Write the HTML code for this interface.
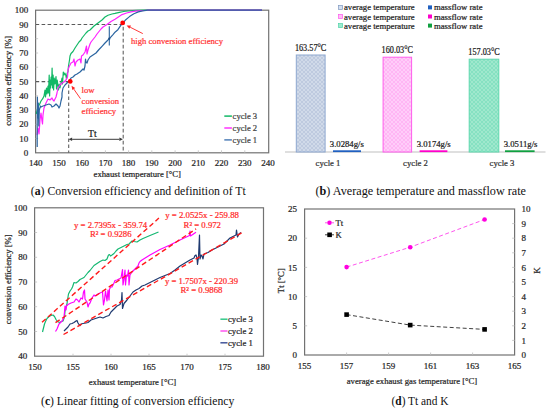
<!DOCTYPE html>
<html><head><meta charset="utf-8"><style>
html,body{margin:0;padding:0;background:#fff;overflow:hidden;}
svg{display:block;}
</style></head><body>
<svg width="550" height="412" viewBox="0 0 550 412" font-family="Liberation Serif">
<rect x="35.6" y="10.2" width="233.1" height="142.60000000000002" fill="none" stroke="#727272" stroke-width="1.2"/>
<line x1="35.6" y1="138.5" x2="38.1" y2="138.5" stroke="#bfbfbf" stroke-width="0.8"/>
<line x1="35.6" y1="124.3" x2="38.1" y2="124.3" stroke="#bfbfbf" stroke-width="0.8"/>
<line x1="35.6" y1="110.0" x2="38.1" y2="110.0" stroke="#bfbfbf" stroke-width="0.8"/>
<line x1="35.6" y1="95.8" x2="38.1" y2="95.8" stroke="#bfbfbf" stroke-width="0.8"/>
<line x1="35.6" y1="81.5" x2="38.1" y2="81.5" stroke="#bfbfbf" stroke-width="0.8"/>
<line x1="35.6" y1="67.2" x2="38.1" y2="67.2" stroke="#bfbfbf" stroke-width="0.8"/>
<line x1="35.6" y1="53.0" x2="38.1" y2="53.0" stroke="#bfbfbf" stroke-width="0.8"/>
<line x1="35.6" y1="38.7" x2="38.1" y2="38.7" stroke="#bfbfbf" stroke-width="0.8"/>
<line x1="35.6" y1="24.5" x2="38.1" y2="24.5" stroke="#bfbfbf" stroke-width="0.8"/>
<line x1="58.9" y1="152.8" x2="58.9" y2="150.3" stroke="#bfbfbf" stroke-width="0.8"/>
<line x1="82.2" y1="152.8" x2="82.2" y2="150.3" stroke="#bfbfbf" stroke-width="0.8"/>
<line x1="105.4" y1="152.8" x2="105.4" y2="150.3" stroke="#bfbfbf" stroke-width="0.8"/>
<line x1="128.6" y1="152.8" x2="128.6" y2="150.3" stroke="#bfbfbf" stroke-width="0.8"/>
<line x1="151.8" y1="152.8" x2="151.8" y2="150.3" stroke="#bfbfbf" stroke-width="0.8"/>
<line x1="175.1" y1="152.8" x2="175.1" y2="150.3" stroke="#bfbfbf" stroke-width="0.8"/>
<line x1="198.3" y1="152.8" x2="198.3" y2="150.3" stroke="#bfbfbf" stroke-width="0.8"/>
<line x1="221.5" y1="152.8" x2="221.5" y2="150.3" stroke="#bfbfbf" stroke-width="0.8"/>
<line x1="244.8" y1="152.8" x2="244.8" y2="150.3" stroke="#bfbfbf" stroke-width="0.8"/>
<text x="28.3" y="155.9" font-size="9" text-anchor="end" fill="#262626"  stroke="#262626" stroke-width="0.22">0</text>
<text x="28.3" y="141.64000000000001" font-size="9" text-anchor="end" fill="#262626"  stroke="#262626" stroke-width="0.22">10</text>
<text x="28.3" y="127.38" font-size="9" text-anchor="end" fill="#262626"  stroke="#262626" stroke-width="0.22">20</text>
<text x="28.3" y="113.12" font-size="9" text-anchor="end" fill="#262626"  stroke="#262626" stroke-width="0.22">30</text>
<text x="28.3" y="98.86" font-size="9" text-anchor="end" fill="#262626"  stroke="#262626" stroke-width="0.22">40</text>
<text x="28.3" y="84.6" font-size="9" text-anchor="end" fill="#262626"  stroke="#262626" stroke-width="0.22">50</text>
<text x="28.3" y="70.33999999999999" font-size="9" text-anchor="end" fill="#262626"  stroke="#262626" stroke-width="0.22">60</text>
<text x="28.3" y="56.07999999999999" font-size="9" text-anchor="end" fill="#262626"  stroke="#262626" stroke-width="0.22">70</text>
<text x="28.3" y="41.82" font-size="9" text-anchor="end" fill="#262626"  stroke="#262626" stroke-width="0.22">80</text>
<text x="28.3" y="27.55999999999998" font-size="9" text-anchor="end" fill="#262626"  stroke="#262626" stroke-width="0.22">90</text>
<text x="28.3" y="13.299999999999988" font-size="9" text-anchor="end" fill="#262626"  stroke="#262626" stroke-width="0.22">100</text>
<text x="35.7" y="165.9" font-size="9" text-anchor="middle" fill="#262626"  stroke="#262626" stroke-width="0.22">140</text>
<text x="58.93" y="165.9" font-size="9" text-anchor="middle" fill="#262626"  stroke="#262626" stroke-width="0.22">150</text>
<text x="82.16" y="165.9" font-size="9" text-anchor="middle" fill="#262626"  stroke="#262626" stroke-width="0.22">160</text>
<text x="105.38999999999999" y="165.9" font-size="9" text-anchor="middle" fill="#262626"  stroke="#262626" stroke-width="0.22">170</text>
<text x="128.62" y="165.9" font-size="9" text-anchor="middle" fill="#262626"  stroke="#262626" stroke-width="0.22">180</text>
<text x="151.85" y="165.9" font-size="9" text-anchor="middle" fill="#262626"  stroke="#262626" stroke-width="0.22">190</text>
<text x="175.07999999999998" y="165.9" font-size="9" text-anchor="middle" fill="#262626"  stroke="#262626" stroke-width="0.22">200</text>
<text x="198.31" y="165.9" font-size="9" text-anchor="middle" fill="#262626"  stroke="#262626" stroke-width="0.22">210</text>
<text x="221.54" y="165.9" font-size="9" text-anchor="middle" fill="#262626"  stroke="#262626" stroke-width="0.22">220</text>
<text x="244.76999999999998" y="165.9" font-size="9" text-anchor="middle" fill="#262626"  stroke="#262626" stroke-width="0.22">230</text>
<text x="268.00000000000006" y="165.9" font-size="9" text-anchor="middle" fill="#262626"  stroke="#262626" stroke-width="0.22">240</text>
<text x="137.3" y="177.4" font-size="8.7" text-anchor="middle" fill="#262626"  stroke="#262626" stroke-width="0.22">exhaust temperature [°C]</text>
<text transform="translate(11.2,80.8) rotate(-90)" font-size="8.7" text-anchor="middle" fill="#262626" stroke="#262626" stroke-width="0.22">conversion efficiency [%]</text>
<text x="30.8" y="194.9" font-size="12" fill="#111" textLength="215" lengthAdjust="spacingAndGlyphs">(<tspan font-weight="bold">a</tspan>) Conversion efficiency and definition of Tt</text>
<line x1="224.3" y1="116.1" x2="231.9" y2="116.1" stroke="#12b866" stroke-width="1.5"/>
<text x="232.6" y="119.1" font-size="8.6" text-anchor="start" fill="#444"  stroke="#444" stroke-width="0.22">cycle 3</text>
<line x1="224.3" y1="128.0" x2="231.9" y2="128.0" stroke="#ff33ff" stroke-width="1.5"/>
<text x="232.6" y="131.0" font-size="8.6" text-anchor="start" fill="#444"  stroke="#444" stroke-width="0.22">cycle 2</text>
<line x1="224.3" y1="139.9" x2="231.9" y2="139.9" stroke="#4f7fb8" stroke-width="1.5"/>
<text x="232.6" y="142.9" font-size="8.6" text-anchor="start" fill="#444"  stroke="#444" stroke-width="0.22">cycle 1</text>
<rect x="34.6" y="207.8" width="228.9" height="148.39999999999998" fill="none" stroke="#727272" stroke-width="1.2"/>
<line x1="34.6" y1="331.5" x2="37.1" y2="331.5" stroke="#bfbfbf" stroke-width="0.8"/>
<line x1="34.6" y1="306.7" x2="37.1" y2="306.7" stroke="#bfbfbf" stroke-width="0.8"/>
<line x1="34.6" y1="282.0" x2="37.1" y2="282.0" stroke="#bfbfbf" stroke-width="0.8"/>
<line x1="34.6" y1="257.3" x2="37.1" y2="257.3" stroke="#bfbfbf" stroke-width="0.8"/>
<line x1="34.6" y1="232.5" x2="37.1" y2="232.5" stroke="#bfbfbf" stroke-width="0.8"/>
<line x1="73.0" y1="356.2" x2="73.0" y2="353.7" stroke="#bfbfbf" stroke-width="0.8"/>
<line x1="111.0" y1="356.2" x2="111.0" y2="353.7" stroke="#bfbfbf" stroke-width="0.8"/>
<line x1="149.0" y1="356.2" x2="149.0" y2="353.7" stroke="#bfbfbf" stroke-width="0.8"/>
<line x1="187.0" y1="356.2" x2="187.0" y2="353.7" stroke="#bfbfbf" stroke-width="0.8"/>
<line x1="225.0" y1="356.2" x2="225.0" y2="353.7" stroke="#bfbfbf" stroke-width="0.8"/>
<text x="27.3" y="359.3" font-size="9" text-anchor="end" fill="#262626"  stroke="#262626" stroke-width="0.22">40</text>
<text x="27.3" y="334.56666666666666" font-size="9" text-anchor="end" fill="#262626"  stroke="#262626" stroke-width="0.22">50</text>
<text x="27.3" y="309.83333333333337" font-size="9" text-anchor="end" fill="#262626"  stroke="#262626" stroke-width="0.22">60</text>
<text x="27.3" y="285.1" font-size="9" text-anchor="end" fill="#262626"  stroke="#262626" stroke-width="0.22">70</text>
<text x="27.3" y="260.3666666666667" font-size="9" text-anchor="end" fill="#262626"  stroke="#262626" stroke-width="0.22">80</text>
<text x="27.3" y="235.63333333333333" font-size="9" text-anchor="end" fill="#262626"  stroke="#262626" stroke-width="0.22">90</text>
<text x="27.3" y="210.9" font-size="9" text-anchor="end" fill="#262626"  stroke="#262626" stroke-width="0.22">100</text>
<text x="35.0" y="369.6" font-size="9" text-anchor="middle" fill="#262626"  stroke="#262626" stroke-width="0.22">150</text>
<text x="73.0" y="369.6" font-size="9" text-anchor="middle" fill="#262626"  stroke="#262626" stroke-width="0.22">155</text>
<text x="111.0" y="369.6" font-size="9" text-anchor="middle" fill="#262626"  stroke="#262626" stroke-width="0.22">160</text>
<text x="149.0" y="369.6" font-size="9" text-anchor="middle" fill="#262626"  stroke="#262626" stroke-width="0.22">165</text>
<text x="187.0" y="369.6" font-size="9" text-anchor="middle" fill="#262626"  stroke="#262626" stroke-width="0.22">170</text>
<text x="225.0" y="369.6" font-size="9" text-anchor="middle" fill="#262626"  stroke="#262626" stroke-width="0.22">175</text>
<text x="263.0" y="369.6" font-size="9" text-anchor="middle" fill="#262626"  stroke="#262626" stroke-width="0.22">180</text>
<text x="132.4" y="385.0" font-size="8.7" text-anchor="middle" fill="#262626"  stroke="#262626" stroke-width="0.22">exhaust temperature [°C]</text>
<text transform="translate(10.6,279.3) rotate(-90)" font-size="8.7" text-anchor="middle" fill="#262626" stroke="#262626" stroke-width="0.22">conversion efficiency [%]</text>
<text x="41" y="405.2" font-size="12" fill="#111" textLength="193.3" lengthAdjust="spacingAndGlyphs">(<tspan font-weight="bold">c</tspan>) Linear fitting of conversion efficiency</text>
<line x1="220.4" y1="319.2" x2="227.5" y2="319.2" stroke="#34c88a" stroke-width="1.5"/>
<text x="228.0" y="322.2" font-size="8.7" text-anchor="start" fill="#262626"  stroke="#262626" stroke-width="0.22">cycle 3</text>
<line x1="220.4" y1="331.0" x2="227.5" y2="331.0" stroke="#ff55f0" stroke-width="1.5"/>
<text x="228.0" y="334.0" font-size="8.7" text-anchor="start" fill="#262626"  stroke="#262626" stroke-width="0.22">cycle 2</text>
<line x1="220.4" y1="342.8" x2="227.5" y2="342.8" stroke="#44569a" stroke-width="1.5"/>
<text x="228.0" y="345.8" font-size="8.7" text-anchor="start" fill="#262626"  stroke="#262626" stroke-width="0.22">cycle 1</text>
<line x1="285" y1="152" x2="545.5" y2="152" stroke="#bfbfbf" stroke-width="1"/>
<defs>
<pattern id="pb" width="4" height="4" patternUnits="userSpaceOnUse"><rect width="4" height="4" fill="#d0dae9"/><path d="M-1,-1 L5,5 M5,-1 L-1,5" stroke="#bac7dc" stroke-width="0.8"/></pattern>
<pattern id="pp" width="4" height="4" patternUnits="userSpaceOnUse"><rect width="4" height="4" fill="#ffcdf9"/><path d="M-1,-1 L5,5 M5,-1 L-1,5" stroke="#ffb0f2" stroke-width="0.8"/></pattern>
<pattern id="pg" width="4" height="4" patternUnits="userSpaceOnUse"><rect width="4" height="4" fill="#9fe8cd"/><path d="M-1,-1 L5,5 M5,-1 L-1,5" stroke="#80e0bf" stroke-width="0.8"/></pattern>
</defs>
<rect x="296.3" y="55.0" width="28.80000000000001" height="97.0" fill="url(#pb)" stroke="#8ea8d0" stroke-width="1"/>
<text x="310.6" y="51.0" font-size="9.4" text-anchor="middle" fill="#1a1a1a" textLength="31.4" lengthAdjust="spacingAndGlyphs" stroke="#1a1a1a" stroke-width="0.22">163.57°C</text>
<rect x="383.1" y="57.2" width="28.5" height="94.8" fill="url(#pp)" stroke="#ff5cec" stroke-width="1"/>
<text x="397.3" y="53.0" font-size="9.4" text-anchor="middle" fill="#1a1a1a" textLength="31.4" lengthAdjust="spacingAndGlyphs" stroke="#1a1a1a" stroke-width="0.22">160.03°C</text>
<rect x="469.2" y="59.2" width="29.600000000000023" height="92.8" fill="url(#pg)" stroke="#5fd8ae" stroke-width="1"/>
<text x="484.0" y="55.099999999999994" font-size="9.4" text-anchor="middle" fill="#1a1a1a" textLength="31.4" lengthAdjust="spacingAndGlyphs" stroke="#1a1a1a" stroke-width="0.22">157.03°C</text>
<rect x="333" y="150.3" width="28" height="1.8" fill="#2060c0"/>
<text x="346.8" y="147.1" font-size="8.7" text-anchor="middle" fill="#222"  stroke="#222" stroke-width="0.22">3.0284g/s</text>
<text x="328" y="165.7" font-size="8.7" text-anchor="middle" fill="#333"  stroke="#333" stroke-width="0.22">cycle 1</text>
<rect x="419.6" y="150.3" width="27.799999999999955" height="1.8" fill="#ff00cc"/>
<text x="433.7" y="147.1" font-size="8.7" text-anchor="middle" fill="#222"  stroke="#222" stroke-width="0.22">3.0174g/s</text>
<text x="415.5" y="165.7" font-size="8.7" text-anchor="middle" fill="#333"  stroke="#333" stroke-width="0.22">cycle 2</text>
<rect x="505" y="150.3" width="29.600000000000023" height="1.8" fill="#10a040"/>
<text x="520.6" y="147.1" font-size="8.7" text-anchor="middle" fill="#222"  stroke="#222" stroke-width="0.22">3.0511g/s</text>
<text x="502" y="165.7" font-size="8.7" text-anchor="middle" fill="#333"  stroke="#333" stroke-width="0.22">cycle 3</text>
<rect x="338.6" y="5.4" width="4" height="4" fill="#d3dff0" stroke="#7f98c0" stroke-width="0.7"/>
<text x="344" y="10.4" font-size="8.7" text-anchor="start" fill="#222"  stroke="#222" stroke-width="0.22">average temperature</text>
<rect x="428" y="5.4" width="4" height="4" fill="#2060c0"/>
<text x="434" y="10.4" font-size="8.7" text-anchor="start" fill="#222"  stroke="#222" stroke-width="0.22">massflow rate</text>
<rect x="338.6" y="14.5" width="4" height="4" fill="#ffc0f6" stroke="#ff55ee" stroke-width="0.7"/>
<text x="344" y="19.5" font-size="8.7" text-anchor="start" fill="#222"  stroke="#222" stroke-width="0.22">average temperature</text>
<rect x="428" y="14.5" width="4" height="4" fill="#ff00cc"/>
<text x="434" y="19.5" font-size="8.7" text-anchor="start" fill="#222"  stroke="#222" stroke-width="0.22">massflow rate</text>
<rect x="338.6" y="23.6" width="4" height="4" fill="#9eeacf" stroke="#4fd3a8" stroke-width="0.7"/>
<text x="344" y="28.6" font-size="8.7" text-anchor="start" fill="#222"  stroke="#222" stroke-width="0.22">average temperature</text>
<rect x="428" y="23.6" width="4" height="4" fill="#10a040"/>
<text x="434" y="28.6" font-size="8.7" text-anchor="start" fill="#222"  stroke="#222" stroke-width="0.22">massflow rate</text>
<text x="315.5" y="194.6" font-size="12" fill="#111" textLength="210.5" lengthAdjust="spacingAndGlyphs">(<tspan font-weight="bold">b</tspan>) Average temperature and massflow rate</text>
<rect x="304.6" y="209.0" width="210.0" height="146.0" fill="none" stroke="#727272" stroke-width="1.2"/>
<line x1="304.6" y1="325.8" x2="307.1" y2="325.8" stroke="#bfbfbf" stroke-width="0.8"/>
<line x1="304.6" y1="296.6" x2="307.1" y2="296.6" stroke="#bfbfbf" stroke-width="0.8"/>
<line x1="304.6" y1="267.4" x2="307.1" y2="267.4" stroke="#bfbfbf" stroke-width="0.8"/>
<line x1="304.6" y1="238.2" x2="307.1" y2="238.2" stroke="#bfbfbf" stroke-width="0.8"/>
<line x1="514.6" y1="340.4" x2="512.1" y2="340.4" stroke="#bfbfbf" stroke-width="0.8"/>
<line x1="514.6" y1="325.8" x2="512.1" y2="325.8" stroke="#bfbfbf" stroke-width="0.8"/>
<line x1="514.6" y1="311.2" x2="512.1" y2="311.2" stroke="#bfbfbf" stroke-width="0.8"/>
<line x1="514.6" y1="296.6" x2="512.1" y2="296.6" stroke="#bfbfbf" stroke-width="0.8"/>
<line x1="514.6" y1="282.0" x2="512.1" y2="282.0" stroke="#bfbfbf" stroke-width="0.8"/>
<line x1="514.6" y1="267.4" x2="512.1" y2="267.4" stroke="#bfbfbf" stroke-width="0.8"/>
<line x1="514.6" y1="252.8" x2="512.1" y2="252.8" stroke="#bfbfbf" stroke-width="0.8"/>
<line x1="514.6" y1="238.2" x2="512.1" y2="238.2" stroke="#bfbfbf" stroke-width="0.8"/>
<line x1="514.6" y1="223.6" x2="512.1" y2="223.6" stroke="#bfbfbf" stroke-width="0.8"/>
<line x1="346.6" y1="355.0" x2="346.6" y2="352.5" stroke="#bfbfbf" stroke-width="0.8"/>
<line x1="388.6" y1="355.0" x2="388.6" y2="352.5" stroke="#bfbfbf" stroke-width="0.8"/>
<line x1="430.6" y1="355.0" x2="430.6" y2="352.5" stroke="#bfbfbf" stroke-width="0.8"/>
<line x1="472.6" y1="355.0" x2="472.6" y2="352.5" stroke="#bfbfbf" stroke-width="0.8"/>
<text x="297.0" y="358.1" font-size="9" text-anchor="end" fill="#262626"  stroke="#262626" stroke-width="0.22">0</text>
<text x="297.0" y="328.90000000000003" font-size="9" text-anchor="end" fill="#262626"  stroke="#262626" stroke-width="0.22">5</text>
<text x="297.0" y="299.70000000000005" font-size="9" text-anchor="end" fill="#262626"  stroke="#262626" stroke-width="0.22">10</text>
<text x="297.0" y="270.5" font-size="9" text-anchor="end" fill="#262626"  stroke="#262626" stroke-width="0.22">15</text>
<text x="297.0" y="241.29999999999998" font-size="9" text-anchor="end" fill="#262626"  stroke="#262626" stroke-width="0.22">20</text>
<text x="297.0" y="212.1" font-size="9" text-anchor="end" fill="#262626"  stroke="#262626" stroke-width="0.22">25</text>
<text x="521.6" y="358.1" font-size="9" text-anchor="start" fill="#262626"  stroke="#262626" stroke-width="0.22">0</text>
<text x="521.6" y="343.5" font-size="9" text-anchor="start" fill="#262626"  stroke="#262626" stroke-width="0.22">1</text>
<text x="521.6" y="328.90000000000003" font-size="9" text-anchor="start" fill="#262626"  stroke="#262626" stroke-width="0.22">2</text>
<text x="521.6" y="314.3" font-size="9" text-anchor="start" fill="#262626"  stroke="#262626" stroke-width="0.22">3</text>
<text x="521.6" y="299.70000000000005" font-size="9" text-anchor="start" fill="#262626"  stroke="#262626" stroke-width="0.22">4</text>
<text x="521.6" y="285.1" font-size="9" text-anchor="start" fill="#262626"  stroke="#262626" stroke-width="0.22">5</text>
<text x="521.6" y="270.5" font-size="9" text-anchor="start" fill="#262626"  stroke="#262626" stroke-width="0.22">6</text>
<text x="521.6" y="255.9" font-size="9" text-anchor="start" fill="#262626"  stroke="#262626" stroke-width="0.22">7</text>
<text x="521.6" y="241.29999999999998" font-size="9" text-anchor="start" fill="#262626"  stroke="#262626" stroke-width="0.22">8</text>
<text x="521.6" y="226.7" font-size="9" text-anchor="start" fill="#262626"  stroke="#262626" stroke-width="0.22">9</text>
<text x="521.6" y="212.1" font-size="9" text-anchor="start" fill="#262626"  stroke="#262626" stroke-width="0.22">10</text>
<text x="304.6" y="368.7" font-size="9" text-anchor="middle" fill="#262626"  stroke="#262626" stroke-width="0.22">155</text>
<text x="346.6" y="368.7" font-size="9" text-anchor="middle" fill="#262626"  stroke="#262626" stroke-width="0.22">157</text>
<text x="388.6" y="368.7" font-size="9" text-anchor="middle" fill="#262626"  stroke="#262626" stroke-width="0.22">159</text>
<text x="430.6" y="368.7" font-size="9" text-anchor="middle" fill="#262626"  stroke="#262626" stroke-width="0.22">161</text>
<text x="472.6" y="368.7" font-size="9" text-anchor="middle" fill="#262626"  stroke="#262626" stroke-width="0.22">163</text>
<text x="514.6" y="368.7" font-size="9" text-anchor="middle" fill="#262626"  stroke="#262626" stroke-width="0.22">165</text>
<text x="412" y="383.9" font-size="8.7" text-anchor="middle" fill="#262626" textLength="130.5" lengthAdjust="spacingAndGlyphs" stroke="#262626" stroke-width="0.22">average exhaust gas temperature [°C]</text>
<text transform="translate(284,280.7) rotate(-90)" font-size="8.7" text-anchor="middle" fill="#262626" stroke="#262626" stroke-width="0.22">Tt [°C]</text>
<text transform="translate(540,270.5) rotate(-90)" font-size="9" text-anchor="middle" fill="#262626" stroke="#262626" stroke-width="0.22">K</text>
<text x="391.5" y="405" font-size="12" fill="#111" textLength="57" lengthAdjust="spacingAndGlyphs">(<tspan font-weight="bold">d</tspan>) Tt and K</text>
<polyline points="346.6,267.1 410.2,247.2 484.6,219.5" fill="none" stroke="#ff55ee" stroke-width="1" stroke-dasharray="4 2.5"/>
<polyline points="346.6,314.6 410.2,325.1 484.6,329.4" fill="none" stroke="#404040" stroke-width="1" stroke-dasharray="4 2.5"/>
<circle cx="346.6" cy="267.1" r="2.3" fill="#ff00e0"/>
<circle cx="410.2" cy="247.2" r="2.3" fill="#ff00e0"/>
<circle cx="484.6" cy="219.5" r="2.3" fill="#ff00e0"/>
<rect x="344.3" y="312.3" width="4.6" height="4.6" fill="#000"/>
<rect x="407.9" y="322.8" width="4.6" height="4.6" fill="#000"/>
<rect x="482.3" y="327.1" width="4.6" height="4.6" fill="#000"/>
<line x1="325" y1="222.8" x2="334" y2="222.8" stroke="#ff55ee" stroke-width="1" stroke-dasharray="2 1.5"/>
<circle cx="329.5" cy="222.8" r="2.3" fill="#ff00e0"/>
<text x="335.5" y="226.0" font-size="8.7" text-anchor="start" fill="#222"  stroke="#222" stroke-width="0.22">Tt</text>
<line x1="325" y1="234.8" x2="334" y2="234.8" stroke="#404040" stroke-width="1"/>
<rect x="327.3" y="232.5" width="4.6" height="4.6" fill="#000"/>
<text x="335.5" y="238.0" font-size="8.7" text-anchor="start" fill="#222"  stroke="#222" stroke-width="0.22">K</text>
<g stroke="#5a5a5a" stroke-width="1.05" stroke-dasharray="3.6 2.4" fill="none">
<polyline points="35.6,24.4 123.2,24.4 123.2,152.8"/>
<polyline points="35.6,81.6 68.7,81.6 68.7,152.8"/>
</g>
<polyline points="36.2,114 37,111 38,107 39.5,104.5 41,101 42.7,98.7 44,96 45,90 45.5,97 46.5,88 47,94 48,86 48.5,93 49.2,75 49.6,96 50.1,80 50.6,88 51.1,77 51.6,85 52.1,68 52.6,88 53.1,75 53.6,90 54.2,78 55,84 56,76.5 56.5,89 57.2,80 58,86 58.5,90 59.2,84 60,88 61,83 62,78 62.5,84 63.3,72 64,75 64.8,73 65.7,75 66.5,79 67.2,73 68,72 68.5,66 69.5,60 70,56 71,53.5 73,51.5 75,48 77,45 79,42 81,40 82,38 84,35.5 86,33 88,31 90,30 94,26 98,23 102,20 105,17 108,15.2 112,14 115,13.4 119.4,12.3 123.7,11.5 128,11 132.5,10.6 137,10.4 145,10.2 262,10.2" fill="none" stroke="#12b866" stroke-width="1.2" stroke-linejoin="round" />
<polyline points="37,135 38,128 39,134 40,120 41,113 42,121 42.5,124 43,115 44,108 46,103 48,99 50,100 51,99 52,98 53,100 54,101 55,99 56,97 57,93 58,88 60,85 62,83 64,82 66,80 67.5,77 68,70 69,67 71,63 73,62 74,59 75,66 76,62 78,60 80,59 81,63 81.5,56 83,55 85,52 86.5,46 87,54 88,50 90,44 91,42 93,39.5 95,37 97,34 99,31.5 101,29 103,27 105,25.8 107,24.5 111,21.5 115,19.3 118,17.3 122,14.6 126.6,13 131,11.9 135.4,11.2 139.7,10.8 144,10.5 150,10.2 262,10.2" fill="none" stroke="#ff22ff" stroke-width="1.2" stroke-linejoin="round" />
<polyline points="37.2,147 37.2,125 37.4,97 37.8,118 38.3,103 38.8,126 39.3,110 40.5,106 41,107 43,106 46,105 49,104 51,105 52,107 54,106 56,104 58,106 59,108 60,106 61,101 62,97 62,93 63,88 65,85 67,83 69,81 71,78 73,77 75,75 77,74 80,72 83,69 84,70 85,66 85.5,59 86,62 87,63 88,60 90,57 93,55 96,53 99,49.5 102,46.3 105,43 107,41 109.3,38.7 111,36.8 113,34.6 115,32.2 117.9,29.7 120.8,25.4 122.5,23.5 125.2,20.3 129.5,16.6 133.9,13.7 138.3,11.9 142.6,10.8 147.7,10.2 262,10.2" fill="none" stroke="#2a64a0" stroke-width="1.2" stroke-linejoin="round" />
<line x1="109.3" y1="26.2" x2="109.3" y2="45.6" stroke="#2a64a0" stroke-width="1.1"/>
<circle cx="70.2" cy="81.4" r="2.4" fill="#f00"/>
<circle cx="122.7" cy="22.9" r="2.4" fill="#f00"/>
<circle cx="109.3" cy="38.7" r="1.1" fill="#1a4a80"/>
<line x1="80.5" y1="98.7" x2="73.79" y2="89.08" stroke="#f22" stroke-width="0.9"/>
<polygon points="71.5,85.8 75.26,88.05 72.31,90.11" fill="#f22"/>
<line x1="142.8" y1="33.6" x2="130.17" y2="27.21" stroke="#f22" stroke-width="0.9"/>
<polygon points="126.6,25.4 130.98,25.60 129.36,28.81" fill="#f22"/>
<text x="131" y="44.1" font-size="8.7" fill="#f33" textLength="92" lengthAdjust="spacingAndGlyphs" stroke="#f33" stroke-width="0.22">high conversion efficiency</text>
<text x="81.6" y="93.1" font-size="8.7" fill="#f33" stroke="#f33" stroke-width="0.22">low</text>
<text x="81.6" y="104.1" font-size="8.7" fill="#f33" textLength="37.4" lengthAdjust="spacingAndGlyphs" stroke="#f33" stroke-width="0.22">conversion</text>
<text x="81.6" y="114.1" font-size="8.7" fill="#f33" stroke="#f33" stroke-width="0.22">efficiency</text>
<line x1="95.7" y1="139.3" x2="72.10" y2="139.30" stroke="#3a3a3a" stroke-width="1.0"/>
<polygon points="68.6,139.3 72.10,137.60 72.10,141.00" fill="#3a3a3a"/>
<line x1="95.7" y1="139.3" x2="119.40" y2="139.30" stroke="#3a3a3a" stroke-width="1.0"/>
<polygon points="122.9,139.3 119.40,141.00 119.40,137.60" fill="#3a3a3a"/>
<text x="92.4" y="136.6" font-size="9.8" fill="#1a1a1a" text-anchor="middle" stroke="#1a1a1a" stroke-width="0.22">Tt</text>
<polyline points="42.5,332 43.5,328 44.5,324 45.5,321.5 47,318.5 49,316.5 51,315.5 53,315 54.5,316.5 56,319.5 57.5,321.5 59.5,322.5 61.5,321.5 63,321 64.5,317 65,311 66,307 67,304 67.5,300 68.5,294 70,291 71.5,289 72.5,287 73.5,284 74,282.5 76,283 78,281.5 80,279.5 82,278.5 84,277.5 86,275 88,272.5 90,270.5 94,265.5 97,263.5 100,261.5 103,260 105,260.5 107,259 108.5,255 109.5,254.5 110.5,256 112,255 114,253.5 116,251 118,249 121,247.5 124,246 127,244.5 129,244 132,241 134,241.5 137,242 140,240 143,238.5 150,235.5 158.5,232" fill="none" stroke="#14b872" stroke-width="1.2" stroke-linejoin="round" />
<polyline points="55.5,331.5 57,329 58,326.5 59,324 60.5,322.5 62.5,320.5 64,317 64.5,312 65,306 66,310 66.5,306 68,304.5 71,303 74,302 76,299 77.5,300 79,302 81,298 82.5,299 83.5,292 84.5,290 85,299 87,302 88,307 89,304 90,303 92,298 94,295 95,296 98,294 101,292.5 102.5,292 103.5,305 104.5,300 105.5,291 107,301 108,290 109,300 109.5,289 111,287 112,287 114,283 115,280.5 117,280 119,279 121,278 122.5,269.5 123,285 124,279 125,270 125.5,285 126.5,275 127.5,276 128.5,270 129,285 130,275 132,272 134,270 136,268 138,266 139,263 140,261.5 142,260 150,255 160,249.5 170,245 180,240 189.5,235.5 190,231 190.5,236 196,232.3" fill="none" stroke="#ff00ff" stroke-width="1.2" stroke-linejoin="round" />
<polyline points="64,331 66,329 68,327 70,324 72,323.5 74,322.5 76,321 77,320.5 78,323 79,324.5 80,325.5 81,324 83,323.5 86,323 88,322.5 91,320 94,319 97,318 100,317 103,318 106,316.5 109,315.5 111,312 114,309 117,306 120,304.5 121.5,300 122,292.5 122.5,308.5 124,303.5 127,300 130,296 133,292 136,290 139,288.5 142,286 145,285 150,282.5 155,280 160,277.5 165,275.5 170,273.5 175,270 180,266 185,263 190,260 194,258 195,255.5 196,255 197,258 197.5,264.5 198.5,257 199.5,235 200,259 201,255 202,256 203,259 204,254 208,252.5 212,250 216,248 220,246 224,244 227,241 230,238 233,236.5 236,235 236.5,230 237.5,237 239,234 241,232.5" fill="none" stroke="#1f3a70" stroke-width="1.2" stroke-linejoin="round" />
<line x1="42.0" y1="322.3" x2="158.9" y2="218.1" stroke="#ff1a1a" stroke-width="1.4" stroke-dasharray="5 3"/>
<line x1="55.5" y1="322.7" x2="196.1" y2="228.8" stroke="#ff1a1a" stroke-width="1.4" stroke-dasharray="5 3"/>
<line x1="63.5" y1="334.5" x2="241.7" y2="232.9" stroke="#ff1a1a" stroke-width="1.4" stroke-dasharray="5 3"/>
<text x="74" y="227.5" font-size="8.8" fill="#ff2a2a" textLength="73.2" lengthAdjust="spacingAndGlyphs" stroke="#ff2a2a" stroke-width="0.22">y = 2.7395x - 359.74</text>
<text x="90" y="237.1" font-size="8.8" fill="#ff2a2a" textLength="41.5" lengthAdjust="spacingAndGlyphs" stroke="#ff2a2a" stroke-width="0.22">R² = 0.9286</text>
<text x="165.2" y="218.1" font-size="8.8" fill="#ff2a2a" textLength="73.8" lengthAdjust="spacingAndGlyphs" stroke="#ff2a2a" stroke-width="0.22">y = 2.0525x - 259.88</text>
<text x="183.6" y="228.1" font-size="8.8" fill="#ff2a2a" textLength="37.4" lengthAdjust="spacingAndGlyphs" stroke="#ff2a2a" stroke-width="0.22">R² = 0.972</text>
<text x="165" y="283.6" font-size="8.8" fill="#ff2a2a" textLength="73" lengthAdjust="spacingAndGlyphs" stroke="#ff2a2a" stroke-width="0.22">y = 1.7507x - 220.39</text>
<text x="180.5" y="293.1" font-size="8.8" fill="#ff2a2a" textLength="42" lengthAdjust="spacingAndGlyphs" stroke="#ff2a2a" stroke-width="0.22">R² = 0.9868</text>
</svg></body></html>
